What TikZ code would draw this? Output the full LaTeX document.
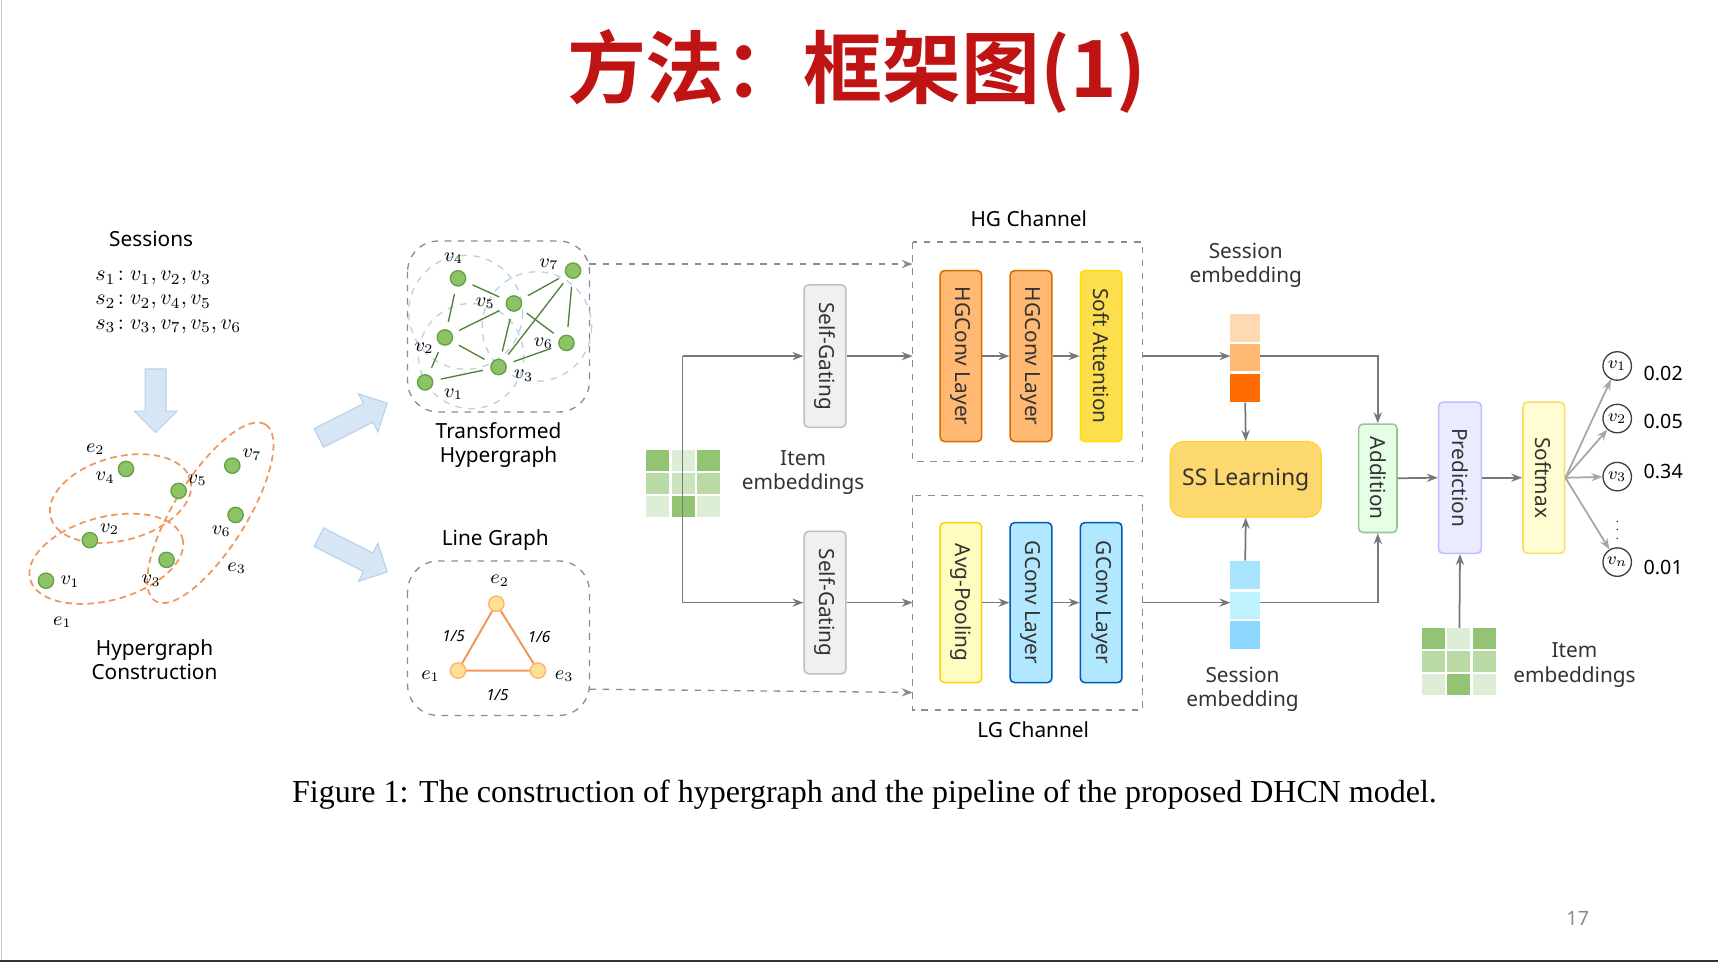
\documentclass[tikz,border=0pt]{standalone}
\usepackage{fontspec}
\setmainfont{Noto Sans}
\newfontfamily\cjkb{Noto Sans CJK SC Bold}
\newfontfamily\capfont{Liberation Serif}
\usetikzlibrary{arrows.meta,shapes.arrows}
\definecolor{gn}{RGB}{140,195,100}\definecolor{gnd}{RGB}{100,160,70}
\definecolor{org}{RGB}{237,125,49}\definecolor{lbl}{RGB}{215,230,245}\definecolor{lbd}{RGB}{185,208,235}
\definecolor{ttl}{RGB}{192,20,20}\definecolor{ar}{RGB}{120,120,120}
\definecolor{m1}{RGB}{146,196,116}\definecolor{m2}{RGB}{185,218,165}\definecolor{m3}{RGB}{222,238,214}
\begin{document}
\begin{tikzpicture}[x=0.5pt,y=-0.5pt,
  vnode/.style={circle,fill=gn,draw=gnd,line width=0.6pt,minimum size=7pt,inner sep=0pt},
  ynode/.style={circle,fill=yellow!45!orange!40,draw=orange!60,line width=0.6pt,minimum size=7pt,inner sep=0pt},
  lab/.style={font=\fontsize{9}{10}\selectfont},
  hd/.style={font=\bfseries\fontsize{9.5}{11}\selectfont,align=center},
  txt/.style={font=\fontsize{9.5}{11}\selectfont,align=center,text=black!80},
  hyper/.style={draw=org!80,dashed,line width=0.8pt,dash pattern=on 3pt off 2pt},
  dbox/.style={draw=black!45,dashed,line width=0.6pt},
  vbox/.style={rotate=-90,rounded corners=2pt,line width=0.7pt,minimum height=19pt,inner sep=0pt,font=\fontsize{9.5}{11}\selectfont,text=black!80},
  arr/.style={draw=ar,line width=0.8pt,-{Stealth[length=5pt]}},
  bigarr/.style={single arrow,fill=lbl,draw=lbd,line width=0.5pt,inner sep=4.5pt,single arrow head extend=5pt,minimum height=35pt}]
\useasboundingbox (0,0) rectangle (1568,878);
\fill[white] (0,0) rectangle (1568,878);
\draw[black!20] (1,0) -- (1,876);
\draw[black!80,line width=1pt] (0,877) -- (1568,877);
% title
\node[text=ttl,font=\cjkb\fontsize{36}{40}\selectfont] (title) at (782,65) {方法：框架图(1)};
\node[font=\capfont\fontsize{14.6}{16}\selectfont] (cap) at (789,725) {Figure 1: The construction of hypergraph and the pipeline of the proposed DHCN model.};
\node[text=black!45,font=\fontsize{9}{10}\selectfont] (pg) at (1440,838) {17};
% sessions
\node[hd] (sess) at (138,218) {Sessions};
\node[anchor=west,font=\fontsize{10}{12}\selectfont,align=left] (sl) at (80,276) {$s_1\!: v_1, v_2, v_3$\\[-1pt]$s_2\!: v_2, v_4, v_5$\\[-1pt]$s_3\!: v_3, v_7, v_5, v_6$};
\node[bigarr,rotate=-90,minimum height=29pt] (da) at (142,361) {};
% hypergraph construction
\draw[hyper,rotate around={15:(110,455)}] (110,455) ellipse [x radius=66,y radius=38];
\draw[hyper,rotate around={15:(97,510)}] (97,510) ellipse [x radius=72,y radius=38];
\draw[hyper,rotate around={58:(192,468)}] (192,468) ellipse [x radius=95,y radius=33];
\node[vnode] (a4) at (115,428) {}; \node[vnode] (a5) at (163,448) {};
\node[vnode] (a7) at (212,425) {}; \node[vnode] (a6) at (215,470) {};
\node[vnode] (a2) at (82,493) {};  \node[vnode] (a3) at (152,511) {};
\node[vnode] (a1) at (42,530) {};
\node[lab] at (96,436) {$v_4$}; \node[lab] at (180,438) {$v_5$}; \node[lab] at (230,415) {$v_7$};
\node[lab] at (202,485) {$v_6$}; \node[lab] at (100,483) {$v_2$}; \node[lab] at (138,530) {$v_3$};
\node[lab] at (64,531) {$v_1$};
\node[lab] at (87,410) {$e_2$}; \node[lab] at (216,519) {$e_3$}; \node[lab] at (57,568) {$e_1$};
\node[hd] (hc) at (141,602) {Hypergraph\\Construction};
\node[bigarr,rotate=27] (ba1) at (318,386) {};
\node[bigarr,rotate=-27] (ba2) at (318,504) {};
% transformed hypergraph
\draw[dbox,rounded corners=14pt] (372,220) rectangle (538,376);
\draw[lbd,dashed,line width=0.6pt] (425,285) circle (52);
\draw[lbd,dashed,line width=0.6pt] (430,325) circle (48);
\draw[lbd,dashed,line width=0.6pt] (490,298) circle (50);
\node[vnode] (b4) at (418,254) {}; \node[vnode] (b7) at (523,247) {};
\node[vnode] (b5) at (469,277) {}; \node[vnode] (b2) at (406,308) {};
\node[vnode] (b6) at (517,313) {}; \node[vnode] (b3) at (455,335) {};
\node[vnode] (b1) at (388,349) {};
\foreach \p/\q in {b4/b5,b4/b2,b2/b5,b2/b3,b2/b1,b1/b3,b3/b5,b3/b7,b5/b7,b5/b6,b7/b6,b6/b3}
  \draw[gnd!80!black,line width=0.6pt,shorten <=3.5pt,shorten >=3.5pt] (\p) -- (\q);
\node[lab] at (414,236) {$v_4$}; \node[lab] at (501,241) {$v_7$}; \node[lab] at (443,277) {$v_5$};
\node[lab] at (387,318) {$v_2$}; \node[lab] at (496,313) {$v_6$}; \node[lab] at (478,343) {$v_3$};
\node[lab] at (414,360) {$v_1$};
\node[hd] (th) at (455,406) {Transformed\\Hypergraph};
% line graph
\node[hd] (lgt) at (452,493) {Line Graph};
\draw[dbox,rounded corners=14pt] (372,512) rectangle (538,653);
\node[ynode] (le2) at (453,551) {}; \node[ynode] (le1) at (418,612) {}; \node[ynode] (le3) at (491,612) {};
\draw[org!80,line width=0.9pt] (le2) -- (le1) -- (le3) -- (le2);
\node[lab] at (456,530) {$e_2$}; \node[lab] at (393,617) {$e_1$}; \node[lab] at (515,617) {$e_3$};
\node[font=\itshape\fontsize{7}{8}\selectfont] at (414,581) {1/5};
\node[font=\itshape\fontsize{7}{8}\selectfont] at (492,581) {1/6};
\node[font=\itshape\fontsize{7}{8}\selectfont] at (454,634) {1/5};
% item embeddings 1
\foreach \c [count=\i from 0] in {m1,m3,m1,m2,m3!50!m2,m2,m3,m1,m3}{
  \pgfmathtruncatemacro{\r}{int(\i/3)}\pgfmathtruncatemacro{\cc}{mod(\i,3)}
  \fill[\c] (590+\cc*23,411+\r*21) rectangle ++(21,19);}
\node[txt] (iet) at (733,431) {Item\\embeddings};
% self-gating
\node[vbox,draw=black!25,fill=black!6,minimum width=65pt] (sg1) at (753,325) {Self-Gating};
\node[vbox,draw=black!25,fill=black!6,minimum width=65pt] (sg2) at (753,550) {Self-Gating};
\coordinate (jt) at (623,325); \coordinate (jb) at (623,550);
\draw[ar,line width=0.8pt] (jt) -- (jb);
\draw[arr] (jt) -- (sg1.south);
\draw[arr] (jb) -- (sg2.south);
% HG channel
\draw[dbox] (833,221) rectangle (1043,421);
\node[hd] (hgt) at (939,200) {HG Channel};
\node[vbox,draw=orange!85!black,fill=orange!55!white,minimum width=78pt] (h1) at (877,325) {HGConv Layer};
\node[vbox,draw=orange!85!black,fill=orange!55!white,minimum width=78pt] (h2) at (941,325) {HGConv Layer};
\node[vbox,draw=yellow!80!orange,fill=yellow!70!orange!70,minimum width=78pt] (h3) at (1005,325) {Soft Attention};
\coordinate (hgl) at (833,325); \coordinate (hgr) at (1043,325);
\draw[arr] (sg1.north) -- (hgl);
\draw[arr] (h1.north) -- (h2.south); \draw[arr] (h2.north) -- (h3.south);
% LG channel
\draw[dbox] (833,452) rectangle (1043,648);
\node[hd] (lgc) at (943,666) {LG Channel};
\node[vbox,draw=yellow!70!orange,fill=yellow!25,minimum width=73pt] (g1) at (877,550) {Avg-Pooling};
\node[vbox,draw=blue!50!cyan!70!black,fill=blue!30!cyan!30,minimum width=73pt] (g2) at (941,550) {GConv Layer};
\node[vbox,draw=blue!50!cyan!70!black,fill=blue!30!cyan!30,minimum width=73pt] (g3) at (1005,550) {GConv Layer};
\coordinate (lgl) at (833,550); \coordinate (lgr) at (1043,550);
\draw[arr] (sg2.north) -- (lgl);
\draw[arr] (g1.north) -- (g2.south); \draw[arr] (g2.north) -- (g3.south);
% dashed connectors from graphs
\coordinate (th1) at (538,241); \coordinate (hg1) at (833,241);
\coordinate (lg1) at (538,629); \coordinate (lc1) at (833,632);
\draw[dbox,-{Stealth[length=5pt]}] (th1) -- (hg1);
\draw[dbox,-{Stealth[length=5pt]}] (lg1) -- (lc1);
% session embeddings
\fill[orange!30] (1123,287) rectangle (1150,312);
\fill[orange!55] (1123,314) rectangle (1150,339);
\fill[orange!85!red] (1123,341) rectangle (1150,367);
\node[inner sep=0pt,minimum width=13.5pt,minimum height=40pt] (se1) at (1136.5,327) {};
\fill[blue!30!cyan!35] (1123,512) rectangle (1150,538);
\fill[blue!20!cyan!25] (1123,540) rectangle (1150,565);
\fill[blue!35!cyan!45] (1123,567) rectangle (1150,592);
\node[inner sep=0pt,minimum width=13.5pt,minimum height=40pt] (se2) at (1136.5,552) {};
\node[txt] (set1) at (1137,242) {Session\\embedding};
\node[txt] (set2) at (1134,629) {Session\\embedding};
\draw[arr] (hgr) -- (1123,325);
\draw[arr] (lgr) -- (1123,550);
\node[draw=yellow!70!orange,fill=yellow!50!orange!55,rounded corners=6pt,minimum width=69pt,minimum height=34.5pt,font=\fontsize{10.5}{12}\selectfont,text=black!80] (ss) at (1137,437.5) {SS Learning};
\draw[arr] (se1.south) -- (ss.north);
\draw[arr] (se2.north) -- (ss.south);
% addition etc
\node[vbox,draw=green!40!black!40,fill=green!10,minimum width=49.5pt,minimum height=17.5pt] (add) at (1257.5,436.5) {Addition};
\node[vbox,draw=blue!25,fill=blue!8,minimum width=69pt,minimum height=19.5pt] (pred) at (1332.5,436) {Prediction};
\node[vbox,draw=yellow!60!orange!60,fill=yellow!18,minimum width=69pt,minimum height=19pt] (soft) at (1409,436) {Softmax};
\draw[arr] (1150,325) -| (add.west);
\draw[arr] (1150,550) -| (add.east);
\draw[arr] (add.north) -- (pred.south);
\draw[arr] (pred.north) -- (soft.south);
% item embeddings 2
\foreach \c [count=\i from 0] in {m1,m3,m1,m2,m2,m2,m3,m1,m3}{
  \pgfmathtruncatemacro{\r}{int(\i/3)}\pgfmathtruncatemacro{\cc}{mod(\i,3)}
  \fill[\c] (1298+\cc*23,573+\r*21) rectangle ++(21,19);}
\coordinate (ie2) at (1332,573);
\draw[arr] (ie2) -- (pred.east);
\node[txt] (iet2) at (1437,607) {Item\\embeddings};
% outputs
\foreach \n/\y/\s in {o1/334/1,o2/382/2,o3/435/3,on/513/n}{
  \node[circle,draw=black!75,line width=0.6pt,minimum size=13pt,inner sep=0pt,font=\fontsize{8}{9}\selectfont] (\n) at (1476,\y) {$v_{\s}$};
  \draw[draw=black!35,line width=0.8pt,-{Stealth[length=5pt]}] (soft.north) -- (\n);
}
\node[font=\fontsize{9}{10}\selectfont] at (1518,341) {0.02};
\node[font=\fontsize{9}{10}\selectfont] at (1518,385) {0.05};
\node[font=\fontsize{9}{10}\selectfont] at (1518,430) {0.34};
\node[font=\fontsize{9}{10}\selectfont] at (1518,518) {0.01};
\node[font=\fontsize{5}{5}\selectfont] at (1476,478) {$\vdots$};
\end{tikzpicture}
\end{document}
